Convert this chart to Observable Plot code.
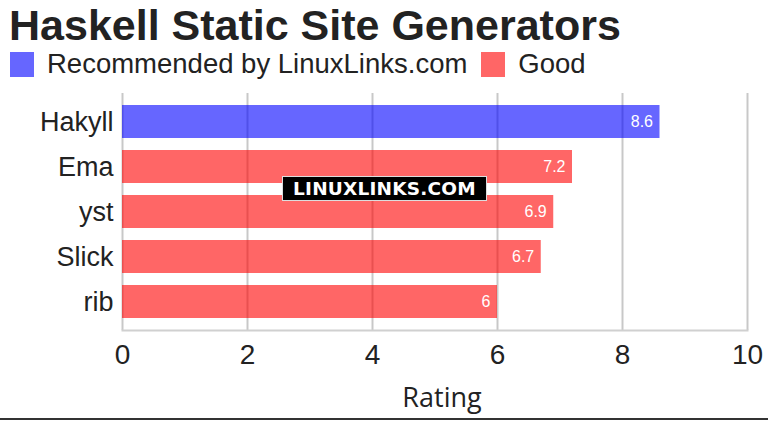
<!DOCTYPE html>
<html>
<head>
<meta charset="utf-8">
<script src="https://cdn.jsdelivr.net/npm/d3@7"></script>
<script src="https://cdn.jsdelivr.net/npm/@observablehq/plot@0.6"></script>
<style>
  html, body { margin: 0; padding: 0; background: #fff; }
  body { width: 768px; height: 421px; position: relative; overflow: hidden; font-family: "Liberation Sans", Arial, sans-serif; color: #222; }
  #title { position: absolute; left: 9px; top: 0px; font-size: 43px; font-weight: bold; line-height: 50px; color: #222; white-space: nowrap; }
  #legend { position: absolute; left: 10px; top: 48px; height: 32px; display: flex; align-items: center; font-size: 27.5px; white-space: nowrap; }
  .sw { width: 24px; height: 25px; display: inline-block; margin-right: 13px; }
  .item { display: flex; align-items: center; margin-right: 14px; }
  #chart { position: absolute; left: 0; top: 85px; }
  #wm { position: absolute; left: 283px; top: 177px; width: 203px; height: 23px; background: #000; color: #fff; font-family: "DejaVu Sans", Verdana, sans-serif; font-weight: bold; font-size: 18.5px; line-height: 23px; text-align: center; box-shadow: 0 0 0 1px #ddd; letter-spacing: 0.2px; }
  #bottomline { position: absolute; left: 0; top: 418px; width: 768px; height: 2px; background: #333; }
</style>
</head>
<body>
<div id="title"></div>
<div id="legend"></div>
<div id="chart"></div>
<div id="wm">LINUXLINKS.COM</div>
<div id="bottomline"></div>
<script>
const titleText = "Haskell Static Site Generators";
const names = ["Hakyll", "Ema", "yst", "Slick", "rib"];
const values = [8.6, 7.2, 6.9, 6.7, 6];
const categories = ["Recommended by LinuxLinks.com", "Good", "Good", "Good", "Good"];
const legendLabels = ["Recommended by LinuxLinks.com", "Good"];
const legendColors = ["#0000ff", "#ff0000"];
const xTicks = [0, 2, 4, 6, 8, 10];
const xLabel = "Rating";

document.getElementById("title").textContent = titleText;
const legend = document.getElementById("legend");
legendLabels.forEach((l, i) => {
  const item = document.createElement("div");
  item.className = "item";
  const sw = document.createElement("span");
  sw.className = "sw";
  sw.style.background = legendColors[i];
  sw.style.opacity = 0.6;
  item.appendChild(sw);
  const t = document.createElement("span");
  t.textContent = l;
  item.appendChild(t);
  legend.appendChild(item);
});

const data = names.map((n, i) => ({name: n, value: values[i], category: categories[i]}));

const chart = Plot.plot({
  width: 768,
  height: 336,
  marginLeft: 122,
  marginRight: 21,
  marginTop: 8,
  marginBottom: 91,
  style: {fontFamily: "'Liberation Sans', Arial, sans-serif", color: "#222", background: "transparent"},
  x: {domain: [0, 10], ticks: xTicks},
  y: {domain: names, paddingInner: 0.256, paddingOuter: 0.22, align: 0.5},
  color: {domain: legendLabels, range: legendColors},
  marks: [
    Plot.gridX(xTicks, {stroke: "#c8c8c8", strokeOpacity: 1, strokeWidth: 2}),
    Plot.frame({anchor: "bottom", stroke: "#d0d0d0", strokeWidth: 2}),
    Plot.barX(data, {x: "value", y: "name", fill: "category", fillOpacity: 0.6}),
    Plot.text(data, {x: "value", y: "name", text: d => String(d.value), textAnchor: "end", dx: -7, fill: "white", fontSize: 16}),
    Plot.axisY({tickSize: 0, tickPadding: 9, fontSize: 27, label: null}),
    Plot.axisX({ticks: xTicks, tickSize: 0, tickPadding: 14, fontSize: 28, label: null}),
    Plot.text([xLabel], {frameAnchor: "bottom", dy: 76, dx: 7, fontSize: 27, fill: "#222", fontFamily: "'Open Sans', 'Noto Sans', sans-serif"})
  ]
});
document.getElementById("chart").appendChild(chart);
</script>
</body>
</html>
